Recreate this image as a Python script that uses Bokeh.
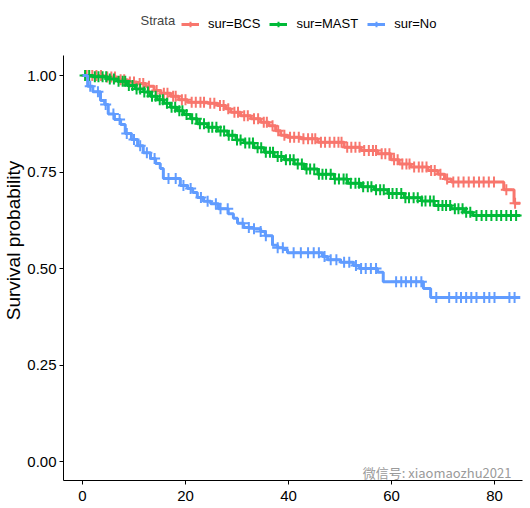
import numpy as np
from bokeh.plotting import figure
from bokeh.models import Legend, LegendItem, FixedTicker, Range1d, NumeralTickFormatter, Label
from bokeh.embed import file_html
from bokeh.resources import INLINE

# ---- data ----
strata_names = ["sur=BCS", "sur=MAST", "sur=No"]
strata_colors = ["#F8766D", "#00BA38", "#619CFF"]

bcs_time = [0, 4.1, 6.75, 8.7, 10.6, 12.3, 13.9, 15.2, 17.1, 18.7, 20.4, 24.3, 26.2, 27.8, 28.8,
            30.7, 32.7, 34.6, 36.2, 37.5, 38.5, 39.8, 42.4, 45.7, 50.8, 54.1, 57.3, 59.9, 61.5,
            63.8, 67.1, 69.0, 70.3, 71.6, 81.8, 83.8, 85.0]
bcs_surv = [1.0, 0.996, 0.989, 0.983, 0.979, 0.972, 0.961, 0.954, 0.946, 0.937, 0.931, 0.928, 0.922,
            0.914, 0.905, 0.896, 0.888, 0.879, 0.870, 0.857, 0.845, 0.840, 0.836, 0.827, 0.814,
            0.806, 0.797, 0.782, 0.771, 0.763, 0.754, 0.744, 0.732, 0.724, 0.704, 0.669, 0.669]
bcs_censor = [0.8, 1.9, 2.7, 3.6, 4.8, 5.6, 6.3, 7.4, 8.1, 9.2, 10.0, 11.1, 11.8, 12.9, 14.4, 15.8,
              16.5, 17.6, 18.1, 19.3, 20.0, 21.2, 22.0, 22.9, 23.6, 24.8, 25.6, 26.7, 27.4, 28.3,
              29.5, 30.2, 31.4, 32.1, 33.3, 34.1, 35.2, 35.8, 36.9, 38.0, 39.2, 40.3, 41.1, 42.0,
              42.9, 43.8, 44.6, 45.2, 46.3, 47.1, 48.0, 48.9, 49.7, 50.3, 51.4, 52.2, 53.0, 53.8,
              54.7, 55.6, 56.4, 57.0, 58.1, 58.8, 59.6, 60.5, 61.2, 62.1, 62.9, 63.5, 64.4, 65.3,
              66.0, 66.8, 67.7, 68.4, 69.5, 70.8, 72.0, 73.0, 74.0, 75.0, 76.0, 77.0, 77.9, 78.9,
              79.9, 82.3, 84.0]

mast_time = [0, 2.0, 4.8, 6.75, 8.7, 10.3, 11.9, 13.2, 14.5, 15.8, 17.1, 18.4, 19.7, 21.0, 22.3,
             24.3, 26.2, 28.2, 29.8, 31.4, 33.3, 35.3, 37.2, 39.2, 41.1, 43.1, 45.7, 48.9, 51.5,
             54.1, 56.7, 59.3, 62.5, 65.8, 68.3, 71.6, 74.2, 75.8, 85.0]
mast_surv = [1.0, 0.997, 0.991, 0.985, 0.974, 0.965, 0.957, 0.946, 0.937, 0.928, 0.918, 0.909,
             0.899, 0.888, 0.875, 0.866, 0.856, 0.845, 0.833, 0.825, 0.813, 0.801, 0.790, 0.782,
             0.771, 0.758, 0.744, 0.732, 0.721, 0.712, 0.704, 0.694, 0.683, 0.675, 0.663, 0.655,
             0.646, 0.637, 0.637]
mast_censor = [0.5, 1.3, 2.4, 3.1, 3.9, 4.6, 5.3, 6.1, 7.0, 7.8, 8.3, 9.0, 9.7, 10.5, 11.2, 12.0,
               12.7, 13.5, 14.2, 15.0, 15.6, 16.4, 17.3, 18.0, 18.8, 19.4, 20.2, 21.3, 22.1, 22.8,
               23.6, 24.5, 25.2, 26.0, 26.8, 27.5, 28.4, 29.1, 30.0, 30.7, 31.6, 32.4, 33.1, 34.0,
               34.7, 35.6, 36.4, 37.0, 37.9, 38.6, 39.5, 40.3, 41.0, 41.8, 42.6, 43.5, 44.2, 45.0,
               45.9, 46.6, 47.3, 48.2, 49.0, 49.8, 50.7, 51.3, 52.1, 53.0, 53.7, 54.5, 55.4, 56.1,
               57.0, 57.8, 58.5, 59.5, 60.2, 61.0, 61.9, 62.7, 63.4, 64.3, 65.1, 65.9, 66.6, 67.5,
               68.2, 69.1, 69.9, 70.6, 71.4, 72.3, 73.0, 73.8, 74.5, 75.3, 76.5, 77.5, 78.4, 79.4,
               80.4, 81.3, 82.3, 83.2, 84.2]

no_time = [0, 1.0, 2.0, 3.5, 4.3, 5.0, 6.2, 7.4, 8.3, 9.5, 10.7, 11.8, 13.2, 14.2, 15.1, 15.7,
           19.0, 20.4, 21.4, 22.3, 23.5, 24.9, 26.4, 28.3, 29.3, 30.1, 31.3, 33.2, 34.6, 35.5,
           36.9, 37.9, 39.0, 39.8, 46.6, 47.6, 50.1, 52.6, 53.8, 57.3, 58.4, 66.2, 67.6, 85.0]
no_surv = [1.0, 0.972, 0.958, 0.935, 0.925, 0.900, 0.886, 0.873, 0.850, 0.834, 0.818, 0.800, 0.785,
           0.772, 0.759, 0.733, 0.715, 0.707, 0.697, 0.684, 0.674, 0.668, 0.655, 0.642, 0.630,
           0.617, 0.606, 0.603, 0.596, 0.585, 0.560, 0.554, 0.549, 0.541, 0.531, 0.523, 0.516,
           0.508, 0.500, 0.490, 0.466, 0.448, 0.425, 0.425]
no_censor = [1.5, 3.0, 4.5, 6.0, 7.2, 8.6, 10.0, 11.2, 12.5, 14.0, 16.7, 18.1, 19.6, 21.0, 23.0,
             24.3, 25.9, 26.8, 28.2, 31.1, 32.3, 33.3, 34.6, 35.6, 37.9, 38.9, 41.0, 42.4, 43.8,
             44.9, 45.9, 47.0, 48.2, 49.3, 50.8, 51.8, 53.1, 54.1, 55.0, 56.0, 57.0, 60.9, 61.9,
             62.8, 63.8, 64.8, 65.8, 68.7, 71.2, 72.6, 73.5, 74.5, 75.5, 76.5, 78.0, 79.0, 80.0,
             82.9, 83.9]

x_ticks = [0, 20, 40, 60, 80]
y_ticks = [0, 0.25, 0.5, 0.75, 1.0]
y_label = "Survival probability"
legend_title = "Strata"
watermark = "微信号: xiaomaozhu2021"

FONT = "Liberation Sans"

p = figure(width=530, height=508, output_backend="svg", toolbar_location=None,
           x_range=Range1d(-3.689, 85.44), y_range=Range1d(-0.0492, 1.1943),
           min_border_left=0, min_border_right=8, min_border_top=0, min_border_bottom=28)
p.grid.visible = False
p.outline_line_color = None
p.background_fill_color = "white"
p.border_fill_color = "white"

series = [(bcs_time, bcs_surv, bcs_censor), (mast_time, mast_surv, mast_censor), (no_time, no_surv, no_censor)]
items = []
for (t, s, c), name, col in zip(series, strata_names, strata_colors):
    t = np.asarray(t, float)
    s = np.asarray(s, float)
    c = np.asarray(c, float)
    r_line = p.step(t, s, mode="after", line_color=col, line_width=3)
    idx = np.searchsorted(t, c, side="right") - 1
    r_cr = p.scatter(c, s[idx], marker="cross", size=11, line_color=col, line_width=2)
    items.append(LegendItem(label=name, renderers=[r_line, r_cr]))

for ax in (p.xaxis[0], p.yaxis[0]):
    ax.axis_line_color = "black"
    ax.axis_line_width = 1
    ax.major_tick_line_color = "black"
    ax.major_tick_out = 4
    ax.major_tick_in = 0
    ax.minor_tick_line_color = None
    ax.major_label_text_font = FONT
    ax.major_label_text_font_size = "15px"
    ax.major_label_text_color = "black"

p.xaxis.major_label_standoff = 6
p.yaxis.major_label_standoff = 3
p.xaxis.ticker = FixedTicker(ticks=x_ticks)
p.yaxis.ticker = FixedTicker(ticks=y_ticks)
p.yaxis.bounds = (-0.06, 1.052)
p.yaxis.formatter = NumeralTickFormatter(format="0.00")
p.yaxis.axis_label = y_label
p.yaxis.axis_label_text_font = FONT
p.yaxis.axis_label_text_font_size = "19px"
p.yaxis.axis_label_text_font_style = "normal"
p.yaxis.axis_label_text_color = "black"
p.yaxis.axis_label_standoff = 0

legend = Legend(items=items, orientation="horizontal", location=(118, 449),
                label_text_font=FONT, label_text_font_size="13px", label_text_color="black",
                border_line_color=None, background_fill_alpha=0,
                glyph_width=18, glyph_height=14, spacing=9, label_standoff=9,
                padding=4, margin=0)
p.add_layout(legend)
p.add_layout(Label(x=11.26, y=1.1425, text=legend_title, text_font=FONT, text_font_size="13px",
                   text_baseline="middle"))

p.add_layout(Label(x=54.4, y=-0.0285, text=watermark, text_font="Noto Sans CJK SC",
                   text_font_size="13px", text_color="#9a9a9a", text_baseline="middle"))

open("out.html", "w").write(file_html(p, INLINE))
